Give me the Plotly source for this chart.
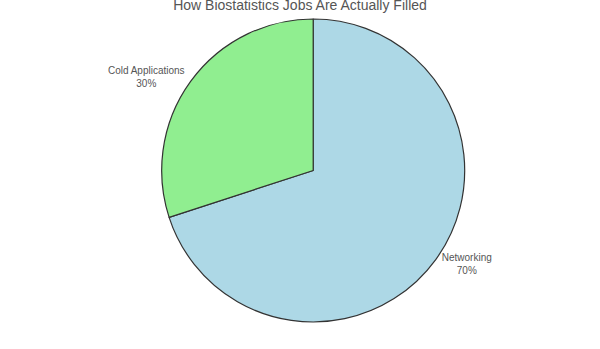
import plotly.graph_objects as go

labels = ["Networking", "Cold Applications"]
values = [70, 30]
colors = ["lightblue", "lightgreen"]

fig = go.Figure(go.Pie(
    labels=labels,
    values=values,
    marker=dict(colors=colors, line=dict(color="#333333", width=1.2)),
    textinfo="label+percent",
    textposition="outside",
    sort=False,
    direction="clockwise",
    rotation=0,
    showlegend=False,
    domain=dict(x=[0.06, 1.0], y=[0.0, 1.0]),
    textfont=dict(size=10, color="#555555", family="Liberation Sans, Arial, sans-serif"),
))
fig.update_layout(
    width=600, height=349,
    title=dict(text="How Biostatistics Jobs Are Actually Filled", x=0.5, xanchor="center", y=0.985, yanchor="middle",
               font=dict(size=14, color="#555555", family="Liberation Sans, Arial, sans-serif")),
    margin=dict(l=0, r=0, t=19, b=27),
    paper_bgcolor="white",
)
fig.write_html("out.html")
